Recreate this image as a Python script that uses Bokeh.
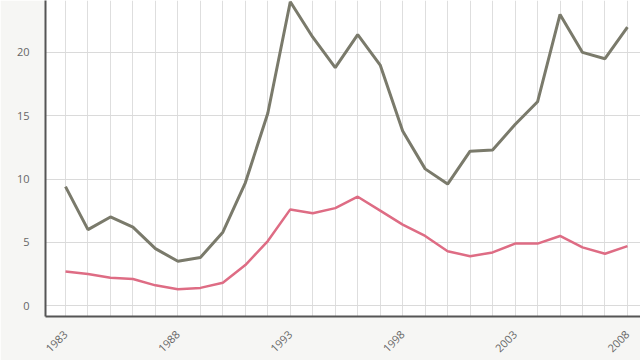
from bokeh.plotting import figure
from bokeh.models import FixedTicker, Range1d
from bokeh.embed import file_html
from bokeh.resources import INLINE
import math

years = list(range(1983, 2009))
gray_series = [9.4, 6.0, 7.0, 6.2, 4.5, 3.5, 3.8, 5.8, 9.7, 15.2, 24.0, 21.2, 18.8, 21.4,
               19.0, 13.8, 10.8, 9.6, 12.2, 12.3, 14.3, 16.1, 23.0, 20.0, 19.5, 22.0]
pink_series = [2.7, 2.5, 2.2, 2.1, 1.6, 1.3, 1.4, 1.8, 3.2, 5.1, 7.6, 7.3, 7.7, 8.6,
               7.5, 6.4, 5.5, 4.3, 3.9, 4.2, 4.9, 4.9, 5.5, 4.6, 4.1, 4.7]
x_tick_labels = [1983, 1988, 1993, 1998, 2003, 2008]
y_ticks = [0, 5, 10, 15, 20]

p = figure(width=640, height=360, output_backend="svg", toolbar_location=None,
           x_range=Range1d(1982.11, 2008.58), y_range=Range1d(-0.86, 24.1),
           min_border_left=45, min_border_right=0, min_border_top=0, min_border_bottom=44)
p.outline_line_color = None
p.background_fill_color = "white"
p.border_fill_color = "#f6f6f4"

p.xaxis.ticker = FixedTicker(ticks=x_tick_labels)
p.xgrid.ticker = FixedTicker(ticks=years)
p.yaxis.ticker = FixedTicker(ticks=y_ticks)
p.ygrid.ticker = FixedTicker(ticks=y_ticks)
p.xgrid.grid_line_color = "#dedede"
p.ygrid.grid_line_color = "#dadada"
p.xgrid.grid_line_width = 1
p.ygrid.grid_line_width = 1

for ax in (p.xaxis, p.yaxis):
    ax.axis_line_color = "#555555"
    ax.axis_line_width = 2
    ax.major_tick_line_color = None
    ax.minor_tick_line_color = None
    ax.major_label_text_color = "#666666"
    ax.major_label_text_font = "Open Sans"
    ax.major_label_text_font_size = "11px"
p.xaxis.major_label_orientation = math.pi / 4
p.xaxis.major_label_standoff = 10
p.yaxis.major_label_standoff = 10

p.line(years, gray_series, line_color="#7a7a6b", line_width=3)
p.line(years, pink_series, line_color="#de6c84", line_width=2.5)

open("out.html", "w").write(file_html(p, INLINE))
